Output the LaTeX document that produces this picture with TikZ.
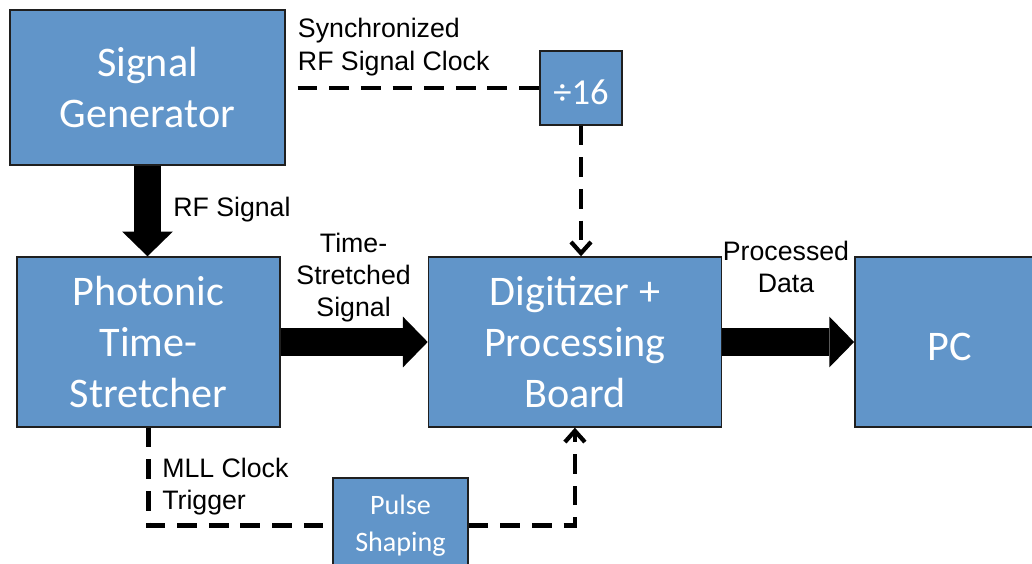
\documentclass[tikz,border=0pt]{standalone}
\usepackage{fontspec}
\setmainfont{Carlito}
\newfontfamily\labelfont{Liberation Sans}
\usetikzlibrary{arrows.meta,positioning}
\definecolor{BoxBlue}{HTML}{6195C9}
\definecolor{BoxEdge}{HTML}{1F1F1F}

\begin{document}
\begin{tikzpicture}[
    box/.style={draw=BoxEdge,line width=1pt,fill=BoxBlue,text=white,align=center,inner sep=0pt,font=\fontsize{30}{36}\selectfont,execute at begin node={\rule{0pt}{0.9em}}},
    lbl/.style={inner sep=0pt,font=\labelfont\fontsize{19}{23}\selectfont},
    bigarrow/.style={line width=0.68cm,-{Triangle[length=0.62cm,width=1.27cm,line width=0pt]}},
    clkline/.style={line width=3pt,dash pattern=on 14pt off 8.5pt},
    barb/.style={-{Straight Barb[length=0.28cm,width=0.5cm]}}]
    \useasboundingbox (0,0) rectangle (25.8,-14.075);
    \clip (0,0) rectangle (25.8,-14.075);
    \node[box,minimum width=6.875cm,minimum height=3.875cm] (sg) at (3.6875,-2.1875) {Signal\\Generator};
    \node[box,minimum width=2.05cm,minimum height=1.85cm,font=\fontsize{26}{30}\selectfont] (div) at (14.525,-2.2) {÷16};
    \node[box,minimum width=6.575cm,minimum height=4.25cm] (pts) at (3.7125,-8.55) {Photonic\\Time-\\Stretcher};
    \node[box,minimum width=7.325cm,minimum height=4.25cm,right=3.675cm of pts] (dig) {Digitizer +\\Processing\\Board};
    \node[box,minimum width=4.75cm,minimum height=4.25cm,right=3.3cm of dig] (pc) {PC};
    \node[box,minimum width=3.375cm,minimum height=2.375cm,font=\fontsize{20}{26}\selectfont] (pulse) at (10.0125,-13.1375) {Pulse\\Shaping};
    \coordinate (clk) at ([xshift=0.3cm]sg.east |- div.west);
    \draw[bigarrow] (sg.south) -- (sg.south |- pts.north);
    \draw[bigarrow] (pts) -- (dig);
    \draw[bigarrow] (dig) -- (pc);
    \draw[clkline] (clk) -- (div.west);
    \draw[clkline,barb] (div.south) -- (div.south |- dig.north);
    \draw[clkline] (pts.south) |- (pulse.west);
    \draw[clkline,barb] (pulse.east) -| (dig.south);
    \node[lbl,align=left,above right=0.3cm and 0cm of clk] (synclbl) {Synchronized\\RF Signal Clock};
    \node[lbl,anchor=west] (rflbl) at (4.325,-5.24) {RF Signal};
    \node[lbl,align=center] (tslbl) at (8.84,-6.94) {Time-\\Stretched\\Signal};
    \node[lbl,align=left,anchor=west] (mlllbl) at (4.05,-12.16) {MLL Clock\\Trigger};
    \node[lbl,align=center] (pdlbl) at (19.65,-6.68) {Processed\\Data};
  \end{tikzpicture}
\end{document}
